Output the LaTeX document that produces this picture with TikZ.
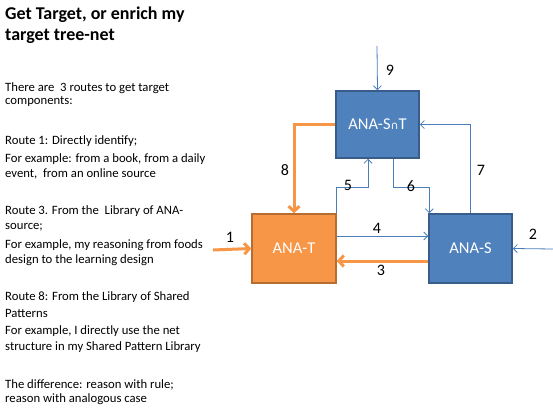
\documentclass[tikz,border=0pt]{standalone}
\usepackage{fontspec}
\setmainfont{Carlito}
\newfontfamily\djv{DejaVu Sans}
\usetikzlibrary{arrows.meta}
\definecolor{bfill}{HTML}{4F81BD}
\definecolor{bdraw}{HTML}{385D8A}
\definecolor{ofill}{HTML}{F79646}
\definecolor{odraw}{HTML}{B66D31}
\definecolor{bline}{HTML}{4A7EBB}
\tikzset{
  bluebox/.style={draw=bdraw, line width=1.5pt, fill=bfill, text=white, font=\fontsize{16.5}{19}\selectfont, inner sep=0pt},
  orangebox/.style={draw=odraw, line width=1.5pt, fill=ofill, text=white, font=\fontsize{16.5}{19}\selectfont, inner sep=0pt},
  bluearrow/.style={draw=bline, line width=0.8pt, -{Straight Barb[length=4pt,width=8pt]}},
  orangearrow/.style={draw=ofill, line width=3pt, -{Straight Barb[length=5pt,width=11pt]}},
  numlab/.style={font=\fontsize{16}{18}\selectfont, inner sep=0pt},
  txt/.style={anchor=west, font=\fontsize{12.7}{15}\selectfont, inner sep=0pt},
  ttl/.style={anchor=west, font=\bfseries\fontsize{18}{21}\selectfont, inner sep=0pt}
}
\begin{document}
\begin{tikzpicture}[x=1pt,y=-1pt]
\path[use as bounding box, fill=white] (0,0) rectangle (553,414);
% left text
\node[ttl] (t1) at (5,15) {Get Target, or enrich my};
\node[ttl] (t2) at (5,36) {target tree-net};
\node[txt] (l1) at (5,88) {There are \ 3 routes to get target};
\node[txt] (l2) at (5,102) {components:};
\node[txt] (l3) at (5,141) {Route 1: Directly identify;};
\node[txt] (l4) at (5,159) {For example: from a book, from a daily};
\node[txt] (l5) at (5,174) {event, \ from an online source};
\node[txt] (l6) at (5,211) {Route 3. From the \ Library of ANA-};
\node[txt] (l7) at (5,227) {source;};
\node[txt] (l8) at (5,245) {For example, my reasoning from foods};
\node[txt] (l9) at (5,260) {design to the learning design};
\node[txt] (l10) at (5,297) {Route 8: From the Library of Shared};
\node[txt] (l11) at (5,313) {Patterns};
\node[txt] (l12) at (5,331) {For example, I directly use the net};
\node[txt] (l13) at (5,347) {structure in my Shared Pattern Library};
\node[txt] (l14) at (5,385) {The difference: reason with rule;};
\node[txt] (l15) at (5,399) {reason with analogous case};
% boxes
\node[bluebox, minimum width=83pt, minimum height=67pt] (st) at (377.5,124.5) {ANA-S{\djv\fontsize{11}{12}\selectfont ∩}T};
\node[orangebox, minimum width=84pt, minimum height=69pt] (t) at (294,248.5) {ANA-T};
\node[bluebox, minimum width=83pt, minimum height=69pt] (s) at (470.5,248.5) {ANA-S};
% free ends
\coordinate (in1) at (213,250);
\coordinate (in2) at (553,249);
\coordinate (in9) at (377,46);
% connectors
\draw[bluearrow] (in9) -- (st.north);
\draw[orangearrow] (st.west) -| (t.north);
\draw[bluearrow] (s.north) |- (st.east);
\draw[bluearrow] ([xshift=-0.5pt]t.north east) |- ([xshift=-9.5pt]st.south |- 0,187) -- ([xshift=-9.5pt]st.south);
\draw[bluearrow] ([xshift=15.5pt]st.south) |- ([xshift=1pt]s.north west |- 0,187) -- ([xshift=1pt]s.north west);
\draw[bluearrow] ([yshift=12.5pt]t.east) -- ([yshift=12.5pt]s.west);
\draw[orangearrow] ([yshift=-12.5pt]s.west) -- ([yshift=-12.5pt]t.east);
\draw[orangearrow] (in1) -- (t.west);
\draw[bluearrow] (in2) -- (s.east);
% labels
\node[numlab] (n9) at (390,70) {9};
\node[numlab] (n8) at (285,170) {8};
\node[numlab] (n7) at (481,170) {7};
\node[numlab] (n5) at (348,185) {5};
\node[numlab] (n6) at (411,186) {6};
\node[numlab] (n4) at (377,228) {4};
\node[numlab] (n3) at (381,270) {3};
\node[numlab] (n1) at (230,237) {1};
\node[numlab] (n2) at (533,234) {2};
\end{tikzpicture}
\end{document}
